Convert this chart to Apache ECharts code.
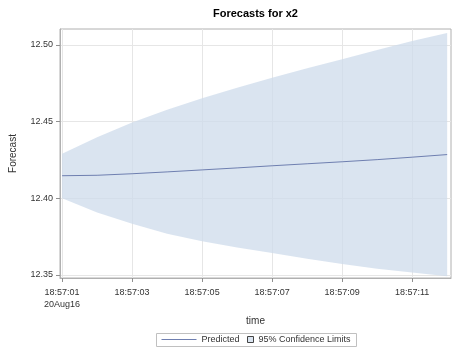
<!DOCTYPE html>
<html>
<head>
<meta charset="utf-8">
<script src="https://cdn.jsdelivr.net/npm/echarts@6/dist/echarts.min.js"></script>
<style>html,body{margin:0;padding:0;background:#fff}#c{width:474px;height:355px}</style>
</head>
<body>
<div id="c"></div>
<script>
// time in seconds after 18:57:00 on 20Aug16
var timeSec = [1, 2, 3, 4, 5, 6, 7, 8, 9, 10, 11, 12];
var predicted = [12.4147, 12.4150, 12.4160, 12.4172, 12.4185, 12.4198, 12.4212, 12.4225, 12.4238, 12.4252, 12.4268, 12.4285];
var upper95 = [12.4290, 12.4398, 12.4495, 12.4578, 12.4652, 12.4721, 12.4786, 12.4848, 12.4907, 12.4967, 12.5025, 12.5078];
var lower95 = [12.4000, 12.3908, 12.3834, 12.3769, 12.3720, 12.3679, 12.3643, 12.3606, 12.3571, 12.3541, 12.3516, 12.3491];
var xTickValues = [1, 3, 5, 7, 9, 11];
var xTickLabels = ['18:57:01\n20Aug16', '18:57:03', '18:57:05', '18:57:07', '18:57:09', '18:57:11'];
var yTickValues = [12.35, 12.40, 12.45, 12.50];

var FONT = 'Liberation Sans, Arial, sans-serif';
var chart = echarts.init(document.getElementById('c'), null, {renderer: 'canvas'});

var bandData = timeSec.map(function (t, i) { return [t, lower95[i], upper95[i]]; });
var predData = timeSec.map(function (t, i) { return [t, predicted[i]]; });

function renderBand(params, api) {
  if (params.dataIndex !== 0) return null;
  var pts = [], i;
  for (i = 0; i < bandData.length; i++) pts.push(api.coord([bandData[i][0], bandData[i][2]]));
  for (i = bandData.length - 1; i >= 0; i--) pts.push(api.coord([bandData[i][0], bandData[i][1]]));
  return {
    type: 'polygon',
    shape: {points: pts},
    style: {fill: 'rgba(206,219,235,0.75)', stroke: null},
    clipPath: {type: 'rect', shape: {x: params.coordSys.x, y: params.coordSys.y, width: params.coordSys.width, height: params.coordSys.height}}
  };
}

chart.setOption({
  animation: false,
  backgroundColor: '#fff',
  title: {
    text: 'Forecasts for x2',
    left: 255.5, textAlign: 'center', top: 8, padding: 0,
    textStyle: {fontFamily: FONT, fontSize: 11, fontWeight: 'bold', color: '#000'}
  },
  legend: [{
    data: [{name: 'Predicted', itemStyle: {color: 'rgba(0,0,0,0)', borderWidth: 0}, lineStyle: {color: '#6f7fb0', width: 1}}],
    left: 161, top: 335, padding: 0,
    itemWidth: 35, itemHeight: 10, itemGap: 5,
    textStyle: {fontFamily: FONT, fontSize: 9, color: '#333'}
  }, {
    data: [{name: '95% Confidence Limits', icon: 'rect',
            itemStyle: {color: '#dae4f0', borderColor: '#444', borderWidth: 1}}],
    left: 247, top: 335, padding: 0,
    itemWidth: 6, itemHeight: 6, itemGap: 5,
    textStyle: {fontFamily: FONT, fontSize: 9, color: '#333'}
  }],
  graphic: [{
    type: 'rect', shape: {x: 156.5, y: 333.5, width: 200, height: 13},
    style: {fill: null, stroke: '#c0c0c0', lineWidth: 1}, silent: true
  }],
  grid: {left: 60, right: 23, top: 29, bottom: 77, show: true, borderColor: '#b0b0b0', borderWidth: 1, backgroundColor: 'transparent'},
  xAxis: {
    type: 'value', min: 0.94, max: 12.11,
    name: 'time', nameLocation: 'middle', nameGap: 35,
    nameTextStyle: {fontFamily: FONT, fontSize: 10, color: '#333'},
    axisLine: {lineStyle: {color: '#b0b0b0'}},
    axisTick: {show: true, length: 4, lineStyle: {color: '#909090'}, customValues: xTickValues},
    axisLabel: {
      customValues: xTickValues, margin: 9,
      fontFamily: FONT, fontSize: 9, color: '#333', lineHeight: 12,
      formatter: function (v) {
        var i = xTickValues.indexOf(Math.round(v));
        return i >= 0 ? xTickLabels[i] : '';
      }
    },
    splitLine: {show: true, lineStyle: {color: '#e6e6e6'}}
  },
  yAxis: {
    type: 'value', min: 12.348, max: 12.5104,
    name: 'Forecast', nameLocation: 'middle', nameGap: 42,
    nameTextStyle: {fontFamily: FONT, fontSize: 10, color: '#333'},
    axisLine: {show: true, lineStyle: {color: '#b0b0b0'}},
    axisTick: {show: true, length: 4, lineStyle: {color: '#909090'}, customValues: yTickValues},
    axisLabel: {
      customValues: yTickValues, margin: 7,
      fontFamily: FONT, fontSize: 9, color: '#333',
      formatter: function (v) { return v.toFixed(2); }
    },
    splitLine: {show: true, lineStyle: {color: '#e6e6e6'}}
  },
  series: [{
    name: '95% Confidence Limits', type: 'custom', data: bandData,
    encode: {x: 0, y: [1, 2]},
    renderItem: renderBand,
    itemStyle: {color: '#dae4f0'}, silent: true, z: 1
  }, {
    name: 'Predicted', type: 'line', data: predData,
    symbol: 'none', lineStyle: {color: '#6f7fb0', width: 1},
    itemStyle: {color: '#6f7fb0'}, z: 3
  }]
});
</script>
</body>
</html>
